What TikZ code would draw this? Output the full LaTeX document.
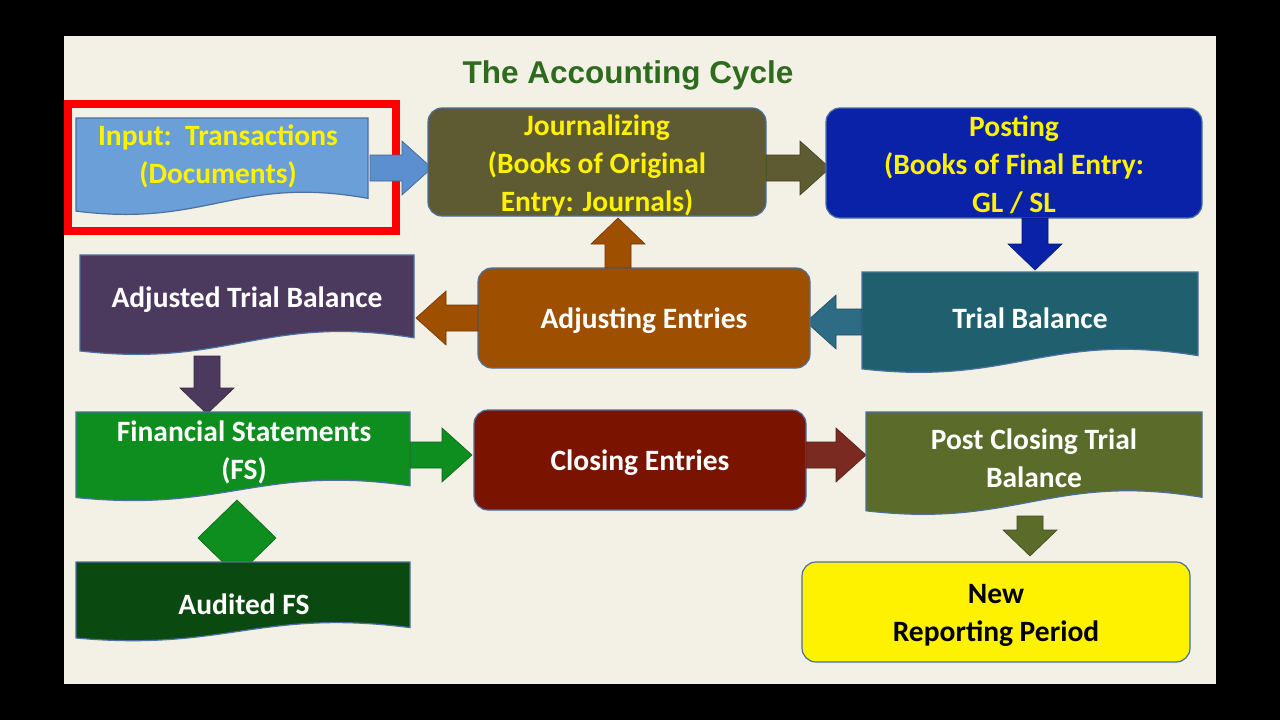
\documentclass[tikz,border=0pt]{standalone}
\usepackage{fontspec}
\setmainfont{Carlito}
\newfontfamily\titlefont{Liberation Sans}
\definecolor{cream}{HTML}{F3F0E6}
\definecolor{bd}{HTML}{4A70A0}
\definecolor{cinp}{HTML}{6A9FD8}
\definecolor{cinpa}{HTML}{5B8FD0}
\definecolor{cjr}{HTML}{5E5A32}
\definecolor{cpo}{HTML}{0A22A8}
\definecolor{ctb}{HTML}{1F5F6E}
\definecolor{ctba}{HTML}{2E6C86}
\definecolor{cae}{HTML}{9E4F00}
\definecolor{catb}{HTML}{4B3A5E}
\definecolor{cfs}{HTML}{0E8E1E}
\definecolor{cce}{HTML}{7A1400}
\definecolor{ccea}{HTML}{7A2A20}
\definecolor{cpc}{HTML}{5A6B2A}
\definecolor{cafs}{HTML}{0A4A10}
\definecolor{ctitle}{HTML}{2E6B1E}
\begin{document}
\begin{tikzpicture}[x=1pt,y=-1pt,
  lbl/.style={font=\bfseries\fontsize{29.5}{38}\selectfont,align=center},
  blk/.style={fill=#1,draw=#1!70!black,line width=0.6pt}]
\useasboundingbox (0,0) rectangle (1280,720);
\fill[black] (0,0) rectangle (1280,720);
\fill[cream] (64,36) rectangle (1216,684);
\newcommand{\docshape}[5]{%
  \pgfmathsetmacro{\W}{#3-#1}\pgfmathsetmacro{\H}{#4-#2}
  \filldraw[fill=#5,draw=bd,line width=1.2pt] (#1,#2) -- (#3,#2) -- (#3,#4-0.18*\H)
   .. controls (#3-0.45*\W,#4-0.42*\H) and (#1+0.45*\W,#4+0.12*\H) .. (#1,#4-0.05*\H) -- cycle;}
\newcommand{\rarrow}[4]{%
  \filldraw[blk=#4] (#1,#3-13) -- (#2-30,#3-13) -- (#2-30,#3-27) -- (#2,#3) -- (#2-30,#3+27) -- (#2-30,#3+13) -- (#1,#3+13) -- cycle;}
\newcommand{\larrow}[4]{%
  \filldraw[blk=#4] (#1,#3-13) -- (#2+30,#3-13) -- (#2+30,#3-27) -- (#2,#3) -- (#2+30,#3+27) -- (#2+30,#3+13) -- (#1,#3+13) -- cycle;}
\newcommand{\darrow}[4]{%
  \filldraw[blk=#4] (#3-13,#1) -- (#3-13,#2-26) -- (#3-27,#2-26) -- (#3,#2) -- (#3+27,#2-26) -- (#3+13,#2-26) -- (#3+13,#1) -- cycle;}
\newcommand{\uarrow}[4]{%
  \filldraw[blk=#4] (#3-13,#1) -- (#3-13,#2+26) -- (#3-27,#2+26) -- (#3,#2) -- (#3+27,#2+26) -- (#3+13,#2+26) -- (#3+13,#1) -- cycle;}

\node[font=\titlefont\bfseries\fontsize{31.5}{36}\selectfont,text=ctitle] (title) at (628,75) {The Accounting Cycle};

\draw[red,line width=8pt] (68,104) rectangle (396,231);
\docshape{76}{118}{368}{216}{cinp}
\node[lbl,text=yellow] (inp) at (218,156) {Input:\ \ Transactions\\(Documents)};
\rarrow{370}{432}{168}{cinpa}

\filldraw[fill=cjr,draw=bd,line width=1.2pt,rounded corners=14pt] (428,108) rectangle (766,216);
\node[lbl,text=yellow] (jr) at (597,165) {Journalizing\\(Books of Original\\Entry: Journals)};
\rarrow{766}{830}{168}{cjr}

\filldraw[fill=cpo,draw=bd,line width=1.2pt,rounded corners=14pt] (826,108) rectangle (1202,218);
\node[lbl,text=yellow] (po) at (1014,165) {Posting\\(Books of Final Entry:\\GL / SL};
\darrow{218}{270}{1035}{cpo}

\docshape{862}{272}{1198}{374}{ctb}
\node[lbl,text=white] (tb) at (1030,318) {Trial Balance};
\larrow{862}{806}{322}{ctba}

\filldraw[fill=cae,draw=bd,line width=1.2pt,rounded corners=14pt] (478,268) rectangle (810,368);
\node[lbl,text=white] (ae) at (644,321) {Adjusting Entries};
\uarrow{268}{218}{618}{cae}
\larrow{478}{416}{318}{cae}

\docshape{80}{255}{414}{356}{catb}
\node[lbl,text=white] (atb) at (247,300) {Adjusted Trial Balance};
\darrow{356}{414}{207}{catb}

\docshape{76}{412}{410}{502}{cfs}
\node[lbl,text=white] (fs) at (244,452) {Financial Statements\\(FS)};
\rarrow{410}{472}{455}{cfs}
\filldraw[blk=cfs] (237,500) -- (276,538) -- (237,576) -- (198,538) -- cycle;

\filldraw[fill=cce,draw=bd,line width=1.2pt,rounded corners=14pt] (474,410) rectangle (806,510);
\node[lbl,text=white] (ce) at (640,463) {Closing Entries};
\rarrow{806}{866}{455}{ccea}

\docshape{866}{412}{1202}{516}{cpc}
\node[lbl,text=white] (pctb) at (1034,458) {Post Closing Trial\\Balance};
\darrow{516}{556}{1030}{cpc}

\filldraw[fill=yellow,draw=bd,line width=1.2pt,rounded corners=14pt] (802,562) rectangle (1190,662);
\node[lbl,text=black] (nrp) at (996,615) {New\\Reporting Period};

\docshape{76}{562}{410}{642}{cafs}
\node[lbl,text=white] (afs) at (244,604) {Audited FS};
\end{tikzpicture}
\end{document}
